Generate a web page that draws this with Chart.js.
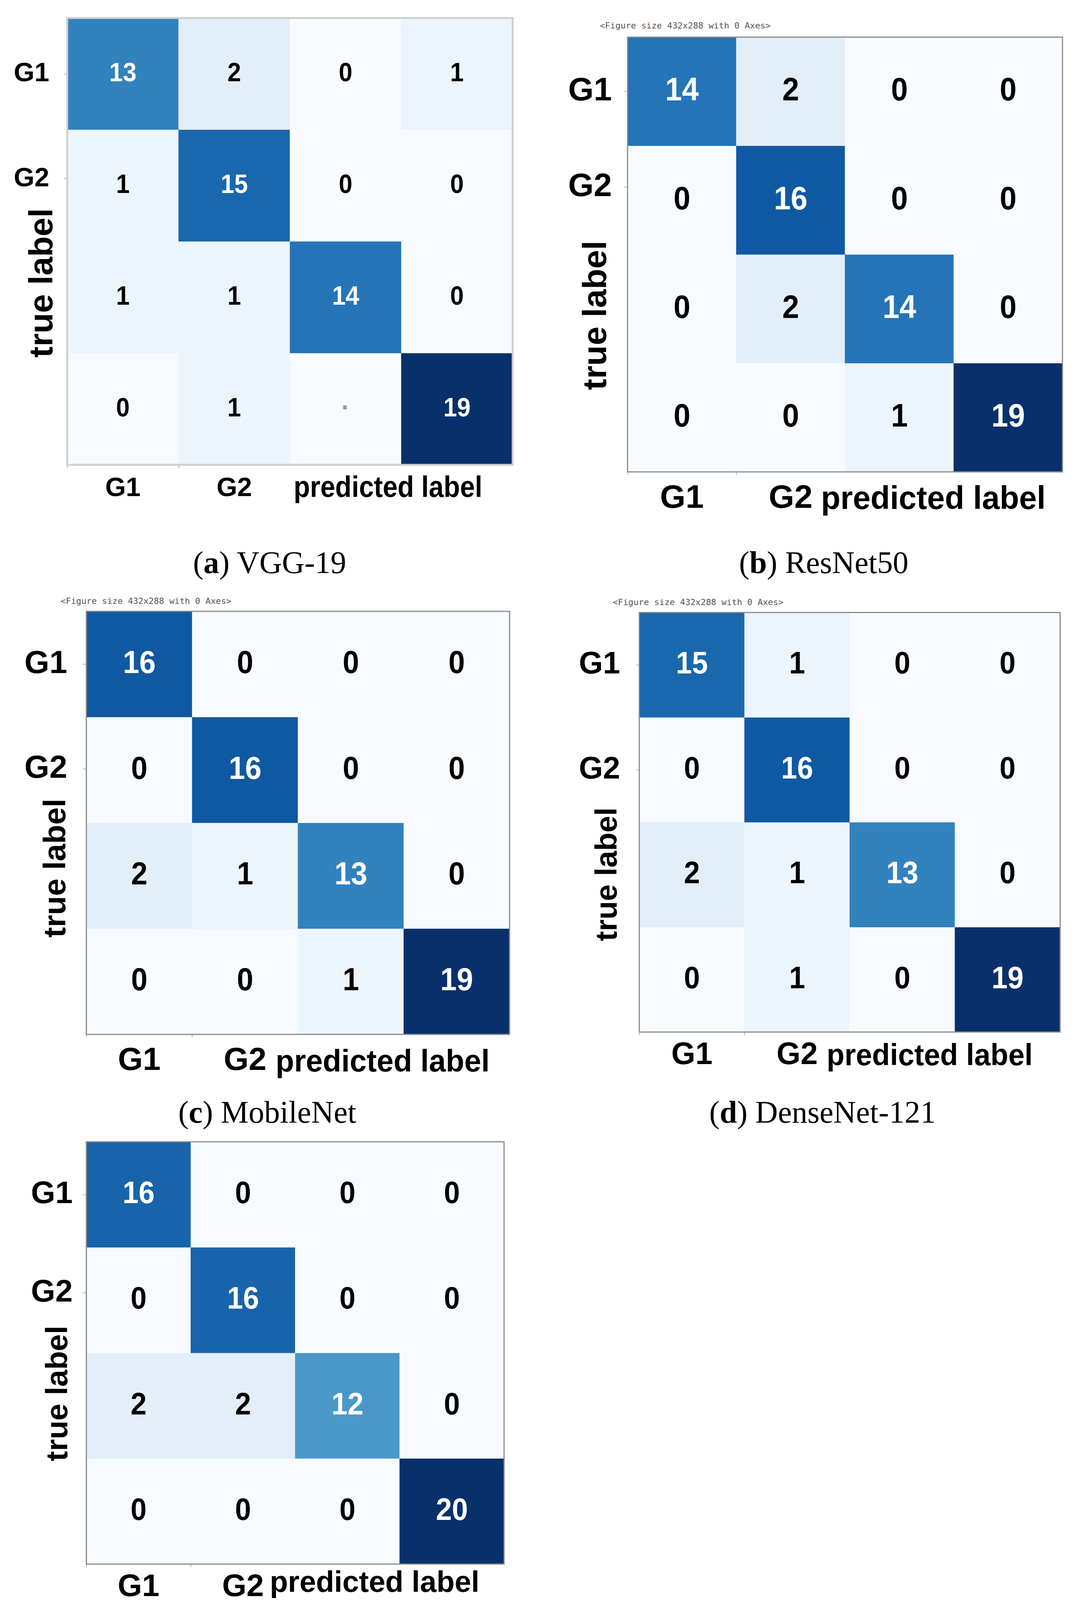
<!DOCTYPE html>
<html>
<head>
<meta charset="utf-8">
<script src="https://cdn.jsdelivr.net/npm/chart.js@4.4.1/dist/chart.umd.min.js"></script>
<style>
  body { margin: 0; background: #fff; width: 2792px; height: 4292px; position: relative; overflow: hidden; }
  canvas { position: absolute; }
  .cap { position: absolute; font-family: "Liberation Serif", serif; font-size: 80px; color: #000;
         transform: translate(-50%, -50%); white-space: nowrap; }
  .figtxt { position: absolute; font-family: "DejaVu Sans Mono", monospace; font-size: 22px; color: #555;
            white-space: nowrap; transform: translateY(-50%); }
</style>
</head>
<body>
<script>
// confusion matrices, rows = true label, columns = predicted label
const vgg19 = [[13, 2, 0, 1], [1, 15, 0, 0], [1, 1, 14, 0], [0, 1, 0, 19]];
const resnet50 = [[14, 2, 0, 0], [0, 16, 0, 0], [0, 2, 14, 0], [0, 0, 1, 19]];
const mobilenet = [[16, 0, 0, 0], [0, 16, 0, 0], [2, 1, 13, 0], [0, 0, 1, 19]];
const densenet121 = [[15, 1, 0, 0], [0, 16, 0, 0], [2, 1, 13, 0], [0, 1, 0, 19]];
const inceptionV3 = [[16, 0, 0, 0], [0, 16, 0, 0], [2, 2, 12, 0], [0, 0, 0, 20]];

const predTicks = ['G1', 'G2', '', ''];
const trueTicks = ['G1', 'G2', '', ''];
const modelNames = ['VGG-19', 'ResNet50', 'MobileNet', 'DenseNet-121', 'InceptionV3'];
const captionTags = ['a', 'b', 'c', 'd', 'e'];
const figureNote = '<Figure size 432x288 with 0 Axes>';
// in the VGG-19 picture the 0 of row 4 / col 3 only shows as a dot
const vggFaded = [3, 2];

const matrices = [vgg19, resnet50, mobilenet, densenet121, inceptionV3];

// layout of each panel (matrix box in page pixels + text sizes)
const layouts = [
  { L: 172, T: 46, R: 1312, B: 1190, tick: 68, num: 68, trueSize: 86, predSize: 76, predSX: 0.9, yPad: 38, xPad: 12, labCy: 58,
    g2Lift: 0.06, trueDx: 62, trueY: 0.593, predX: 0.72, predDy: 0, frame: '#cfcfcf', frameW: 5, capX: 690, capY: 1440, fig: null },
  { L: 1606, T: 95, R: 2719, B: 1208, tick: 84, num: 84, trueSize: 86, predSize: 84, predSX: 0.97, yPad: 32, xPad: 10, labCy: 65,
    g2Lift: 0.12, trueDx: 79, trueY: 0.64, predX: 0.703, predDy: 0, frame: '#8a8a8a', frameW: 3, capX: 2108, capY: 1440, fig: [1535, 65] },
  { L: 221, T: 1565, R: 1304, B: 2648, tick: 82, num: 82, trueSize: 80, predSize: 80, predSX: 0.97, yPad: 41, xPad: 11, labCy: 65,
    g2Lift: 0.01, trueDx: 76, trueY: 0.607, predX: 0.70, predDy: 0, frame: '#8a8a8a', frameW: 3, capX: 684, capY: 2847, fig: [155, 1538] },
  { L: 1636, T: 1568, R: 2713, B: 2642, tick: 79, num: 80, trueSize: 77, predSize: 77, predSX: 0.97, yPad: 41, xPad: 5, labCy: 57,
    g2Lift: 0, trueDx: 79, trueY: 0.624, predX: 0.69, predDy: 0, frame: '#8a8a8a', frameW: 3, capX: 2105, capY: 2847, fig: [1568, 1541] },
  { L: 221, T: 2923, R: 1290, B: 4004, tick: 80, num: 80, trueSize: 78, predSize: 76, predSX: 1, yPad: 27, xPad: 4, labCy: 57,
    g2Lift: 0.07, trueDx: 71, trueY: 0.596, predX: 0.69, predDy: -15, frame: '#8a8a8a', frameW: 3, capX: 684, capY: 4178, fig: null },
];

const LEFT_W = 175, PAD_TOP = 12, PAD_RIGHT = 14, BOTTOM_H = 150, TICK_LEN = 8, NUM_SX = 0.92;
const SANS = '"Liberation Sans", Arial, sans-serif';

// matplotlib "Blues"
const BLUES = ['#f7fbff', '#deebf7', '#c6dbef', '#9ecae1', '#6baed6', '#4292c6', '#2171b5', '#08519c', '#08306b'];
function hexRgb(h) {
  return [parseInt(h.slice(1, 3), 16), parseInt(h.slice(3, 5), 16), parseInt(h.slice(5, 7), 16)];
}
function blues(t) {
  t = Math.max(0, Math.min(1, t));
  const p = t * (BLUES.length - 1);
  const i = Math.min(Math.floor(p), BLUES.length - 2);
  const f = p - i;
  const a = hexRgb(BLUES[i]), b = hexRgb(BLUES[i + 1]);
  const c = a.map((v, k) => Math.round(v + (b[k] - v) * f));
  return `rgb(${c[0]},${c[1]},${c[2]})`;
}

function squeezedText(ctx, txt, x, y, sx) {
  ctx.save();
  ctx.translate(x, y);
  ctx.scale(sx, 1);
  ctx.fillText(txt, 0, 0);
  ctx.restore();
}

function makePlugin(m, P, faded) {
  const max = Math.max(...m.flat());
  return {
    id: 'cmText',
    afterDraw(chart) {
      const ctx = chart.ctx, a = chart.chartArea;
      ctx.save();
      ctx.textAlign = 'center';
      ctx.textBaseline = 'middle';
      ctx.font = `bold ${P.num}px ${SANS}`;
      chart.data.datasets.forEach((ds, i) => {
        chart.getDatasetMeta(i).data.forEach((bar, j) => {
          const { x, y, base } = bar.getProps(['x', 'y', 'base'], true);
          const v = m[i][j];
          if (faded && faded[0] === i && faded[1] === j) {
            ctx.fillStyle = '#9a9a9a';
            ctx.fillText('·', x, (y + base) / 2);
            return;
          }
          ctx.fillStyle = v > max / 2 ? '#ffffff' : '#000000';
          squeezedText(ctx, String(v), x, (y + base) / 2, NUM_SX);
        });
      });

      // axes frame
      ctx.strokeStyle = P.frame;
      ctx.lineWidth = P.frameW;
      ctx.strokeRect(a.left, a.top, a.right - a.left, a.bottom - a.top);

      // axis titles
      ctx.fillStyle = '#000';
      ctx.font = `bold ${P.predSize}px ${SANS}`;
      ctx.textBaseline = 'alphabetic';
      squeezedText(ctx, 'predicted label', a.left + P.predX * (a.right - a.left),
        a.bottom + P.labCy + 0.36 * P.tick + P.predDy, P.predSX);

      ctx.font = `bold ${P.trueSize}px ${SANS}`;
      ctx.textBaseline = 'middle';
      ctx.translate(a.left - P.trueDx, a.top + P.trueY * (a.bottom - a.top));
      ctx.rotate(-Math.PI / 2);
      ctx.fillText('true label', 0, 0);
      ctx.restore();
    }
  };
}

function drawPanel(k) {
  const m = matrices[k], P = layouts[k];
  const max = Math.max(...m.flat());
  const w = P.R - P.L, h = P.B - P.T;

  const canvas = document.createElement('canvas');
  canvas.width = LEFT_W + w + PAD_RIGHT;
  canvas.height = PAD_TOP + h + BOTTOM_H;
  canvas.style.left = (P.L - LEFT_W) + 'px';
  canvas.style.top = (P.T - PAD_TOP) + 'px';
  canvas.style.width = canvas.width + 'px';
  canvas.style.height = canvas.height + 'px';
  document.body.appendChild(canvas);

  const tickGrid = {
    drawOnChartArea: false,
    tickLength: TICK_LEN,
    tickWidth: 2,
    tickColor: (c) => (c.index < 2 ? '#b0b0b0' : 'rgba(0,0,0,0)'),
  };

  new Chart(canvas, {
    type: 'bar',
    data: {
      labels: predTicks,
      datasets: m.map((row, i) => ({
        data: row.map(() => [i, i + 1]),
        backgroundColor: row.map((v) => blues(v / max)),
        borderWidth: 0,
        barPercentage: 1,
        categoryPercentage: 1,
        grouped: false,
      })),
    },
    options: {
      responsive: false,
      animation: false,
      devicePixelRatio: 1,
      layout: { padding: { top: PAD_TOP, right: PAD_RIGHT, left: 0, bottom: 0 } },
      plugins: { legend: { display: false }, tooltip: { enabled: false } },
      scales: {
        x: {
          grid: tickGrid,
          border: { display: false },
          ticks: {
            color: '#000', autoSkip: false, maxRotation: 0, padding: P.xPad,
            font: { family: SANS, weight: 'bold', size: P.tick },
          },
          afterFit: (s) => {
            s.height = BOTTOM_H;
            s.paddingLeft = 0;
            s.paddingRight = 0;
          },
        },
        y: {
          type: 'linear', min: 0, max: 4, reverse: true,
          grid: tickGrid,
          border: { display: false },
          afterBuildTicks: (s) => {
            s.ticks = trueTicks.map((t, i) => ({ value: i + 0.5 - (i === 1 ? P.g2Lift : 0) }));
          },
          ticks: {
            color: '#000', autoSkip: false, padding: P.yPad,
            font: { family: SANS, weight: 'bold', size: P.tick },
            callback: (v, i) => trueTicks[i],
          },
          afterFit: (s) => {
            s.width = LEFT_W;
            s.paddingTop = 0;
            s.paddingBottom = 0;
          },
        },
      },
    },
    plugins: [makePlugin(m, P, k === 0 ? vggFaded : null)],
  });

  const cap = document.createElement('div');
  cap.className = 'cap';
  cap.style.left = P.capX + 'px';
  cap.style.top = P.capY + 'px';
  cap.innerHTML = `(<b>${captionTags[k]}</b>) ${modelNames[k]}`;
  document.body.appendChild(cap);

  if (P.fig) {
    const note = document.createElement('div');
    note.className = 'figtxt';
    note.style.left = P.fig[0] + 'px';
    note.style.top = P.fig[1] + 'px';
    note.textContent = figureNote;
    document.body.appendChild(note);
  }
}

for (let k = 0; k < matrices.length; k++) {
  drawPanel(k);
}
</script>
</body>
</html>
